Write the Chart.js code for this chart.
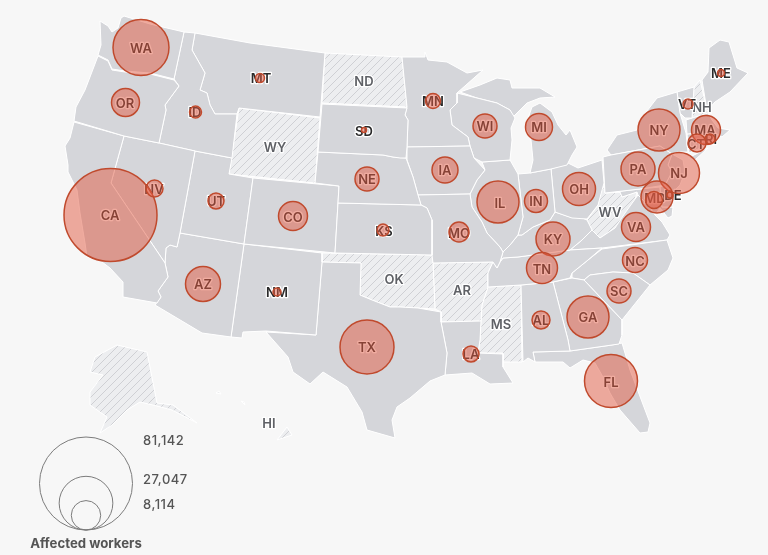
<!DOCTYPE html>
<html>
<head>
<meta charset="utf-8">
<title>Affected workers by state</title>
<script src="https://cdn.jsdelivr.net/npm/chart.js@4"></script>
<style>
  html, body { margin: 0; padding: 0; background: #f7f7f7; }
  #map { display: block; }
</style>
</head>
<body>
<canvas id="map" width="768" height="555"></canvas>
<script>
// state outlines, in map units
const shapeWA = [[100,21],[108,26],[112,32],[118,28],[121,18],[124,16],[150,24],[184,32],[174,79],[150,73],[125,71],[112,69],[108,60],[98,55],[101,45]];
const shapeOR = [[98,56],[108,61],[112,70],[125,72],[150,74],[174,80],[179,86],[165,105],[166,110],[159,143],[124,136],[74,121],[76,107],[85,90]];
const shapeCA = [[74,122],[124,136],[111,183],[165,263],[168,277],[158,291],[161,297],[157,303],[123,297],[123,282],[110,268],[102,262],[87,257],[85,243],[80,213],[77,190],[68,172],[68,165],[65,146],[70,138]];
const shapeNV = [[124,136],[159,143],[195,151],[180,233],[177,247],[170,245],[166,248],[165,263],[111,183]];
const shapeID = [[184,32],[195,33],[192,50],[205,73],[200,90],[207,93],[210,105],[215,114],[237,114],[232,158],[195,151],[159,143],[166,110],[165,105],[179,86],[174,79]];
const shapeMT = [[195,33],[250,43],[325,53],[320,117],[239,108],[237,114],[215,114],[210,105],[207,93],[200,90],[205,73],[192,50]];
const shapeWY = [[239,108],[320,118],[315,183],[229,174]];
const shapeND = [[325,53],[402,57],[407,107],[322,103]];
const shapeSD = [[322,104],[407,108],[405,115],[408,120],[407,147],[406,158],[400,158],[393,157],[383,155],[318,152]];
const shapeNE = [[318,152],[383,155],[393,157],[406,158],[413,177],[418,195],[421,205],[338,203],[339,186],[315,183]];
const shapeKS = [[338,203],[421,205],[427,208],[432,220],[432,255],[335,253]];
const shapeCO = [[253,178],[339,186],[335,253],[244,244]];
const shapeUT = [[195,151],[232,158],[229,174],[253,178],[244,244],[180,233]];
const shapeAZ = [[180,233],[244,244],[231,337],[202,333],[155,305],[161,297],[158,291],[168,277],[165,263],[166,248],[170,245],[177,247]];
const shapeNM = [[244,244],[322,253],[322,262],[316,335],[266,331],[243,332],[242,338],[231,337]];
const shapeTX = [[322,262],[361,263],[360,295],[372,300],[390,307],[400,307],[418,308],[441,312],[441,322],[447,353],[445,375],[430,381],[410,398],[397,407],[392,420],[395,438],[367,430],[362,412],[347,387],[323,372],[310,384],[293,372],[288,357],[266,332],[316,335]];
const shapeOK = [[322,253],[432,255],[433,263],[435,309],[418,308],[400,307],[390,307],[372,300],[360,295],[361,263],[322,262]];
const shapeAR = [[433,263],[493,262],[488,273],[488,287],[482,305],[481,321],[441,322],[441,312],[435,309]];
const shapeMO = [[418,195],[470,194],[472,207],[482,222],[487,233],[500,247],[503,252],[500,262],[497,268],[493,262],[433,263],[432,255],[432,220],[427,208],[421,205]];
const shapeIA = [[407,147],[470,146],[474,158],[485,170],[477,180],[470,194],[418,195],[413,177],[407,160]];
const shapeMN = [[402,57],[425,57],[425,52],[428,60],[447,62],[467,73],[483,70],[457,93],[457,103],[450,110],[452,125],[468,137],[470,146],[407,147],[408,120],[405,115],[407,107]];
const shapeWI = [[457,93],[477,98],[497,103],[510,110],[515,118],[511,128],[512,140],[510,160],[482,162],[474,158],[470,146],[468,137],[452,125],[450,110],[457,103]];
const shapeUP = [[460,92],[480,85],[497,78],[510,80],[512,88],[540,88],[555,97],[540,98],[527,103],[513,117],[510,110],[497,103],[477,98]];
const shapeMI = [[532,107],[540,103],[552,112],[558,125],[566,135],[570,130],[577,147],[572,155],[567,165],[551,169],[530,173],[533,160],[531,140],[525,127]];
const shapeIL = [[482,162],[510,160],[518,174],[523,217],[518,235],[510,245],[503,252],[500,247],[487,233],[482,222],[472,207],[470,194],[477,180],[485,170]];
const shapeIN = [[518,174],[530,173],[551,169],[555,212],[550,220],[533,227],[522,235],[518,235],[523,217]];
const shapeOH = [[551,169],[568,163],[578,168],[602,160],[604,183],[598,205],[587,219],[572,218],[555,212]];
const shapeKY = [[555,212],[570,217],[580,217],[587,220],[592,230],[582,240],[570,250],[518,257],[503,258],[500,262],[503,252],[510,245],[518,235],[522,235],[533,227],[550,220]];
const shapeTN = [[500,262],[503,258],[518,257],[570,250],[602,248],[588,260],[572,273],[570,278],[553,282],[521,285],[488,287],[488,273],[493,262],[497,268]];
const shapeMS = [[488,287],[521,285],[522,362],[503,362],[503,353],[478,353],[480,340],[481,321],[482,305]];
const shapeAL = [[521,285],[553,282],[568,340],[570,351],[533,352],[535,362],[528,358],[523,362]];
const shapeGA = [[553,282],[572,278],[584,280],[600,297],[622,320],[622,335],[619,344],[612,345],[570,351],[568,340]];
const shapeFL = [[533,352],[570,351],[612,345],[622,343],[630,370],[650,423],[648,432],[640,433],[620,410],[610,393],[603,377],[595,363],[583,360],[570,368],[563,362],[535,362]];
const shapeSC = [[584,280],[590,275],[613,272],[633,273],[650,285],[622,320],[600,297]];
const shapeNC = [[602,249],[667,240],[673,258],[668,270],[650,285],[633,273],[613,272],[590,275],[584,280],[572,278],[572,273],[588,260]];
const shapeVA = [[570,250],[582,240],[592,230],[600,238],[615,228],[625,213],[638,195],[648,205],[655,215],[662,222],[670,235],[667,240],[602,248]];
const shapeWV = [[603,183],[605,193],[620,192],[622,197],[637,192],[633,207],[615,228],[600,238],[592,230],[587,220],[598,205]];
const shapePA = [[603,157],[611,155],[660,146],[672,154],[668,165],[672,172],[665,185],[640,189],[605,193]];
const shapeNY = [[611,155],[607,150],[617,135],[637,130],[640,120],[657,98],[677,92],[680,113],[686,133],[688,152],[678,152],[672,154],[660,146]];
const shapeLI = [[688,158],[708,148],[695,160]];
const shapeNJ = [[672,154],[683,160],[685,172],[680,185],[673,192],[665,185],[672,172],[668,165]];
const shapeDE = [[665,185],[670,195],[673,207],[662,207],[660,187]];
const shapeMD = [[605,193],[640,189],[660,187],[662,207],[673,207],[672,216],[668,218],[660,208],[655,215],[648,205],[638,195],[637,192],[622,197],[620,192]];
const shapeVT = [[677,92],[694,87],[692,118],[685,118],[680,113]];
const shapeNH = [[694,87],[700,80],[707,110],[712,113],[692,118]];
const shapeME = [[702,80],[708,72],[709,48],[720,40],[729,42],[737,68],[748,73],[730,92],[715,102],[707,111]];
const shapeMA = [[686,120],[708,113],[712,120],[718,128],[730,130],[722,137],[713,132],[687,134]];
const shapeCT = [[687,134],[706,132],[707,145],[689,153]];
const shapeRI = [[706,132],[713,132],[713,142],[707,145]];
const shapeLA = [[441,322],[481,321],[480,340],[478,353],[503,354],[503,367],[513,383],[490,384],[472,373],[445,375],[447,353]];
const shapeAK = [[117,345],[147,352],[157,403],[173,405],[197,423],[172,410],[157,406],[140,402],[127,410],[112,425],[100,433],[107,417],[90,405],[90,392],[103,375],[90,372],[95,357]];
const shapeHI = [[277,440],[287,427],[292,435]];
const shapeHI2 = [[216,393],[219,391],[221,394]];
const shapeHI3 = [[241,401],[244,402],[245,405]];

const plainShapes = [shapeWA, shapeOR, shapeCA, shapeNV, shapeID, shapeMT, shapeSD, shapeNE, shapeKS, shapeCO, shapeUT, shapeAZ, shapeNM, shapeTX,
  shapeMO, shapeIA, shapeMN, shapeWI, shapeUP, shapeMI, shapeIL, shapeIN, shapeOH, shapeKY, shapeTN, shapeAL, shapeGA, shapeFL, shapeSC, shapeNC,
  shapeVA, shapePA, shapeNY, shapeLI, shapeNJ, shapeDE, shapeMD, shapeVT, shapeME, shapeMA, shapeCT, shapeRI, shapeLA];
const hatchedShapes = [shapeWY, shapeND, shapeOK, shapeAR, shapeMS, shapeWV, shapeNH, shapeAK, shapeHI, shapeHI2, shapeHI3];

// affected workers per state
const bubbleCodes = ['WA','OR','ID','CA','NV','UT','MT','SD','MN','WI','NE','IA','CO','KS','MO','IL','MI','IN','OH','KY','TN','VA','NC','SC','GA','FL','AL','LA','TX','AZ','NM','NY','PA','NJ','MD','DC','DE','MA','CT','RI','VT','ME'];
const bubbleX = [141,125.5,195.5,110.5,154.5,216,260,364,433,485,367,445,293,383,459,498,539,536,579,553,542,636,635,619,588,611,541,471,367,203,277,659,638,679,657,654,670,706,697,710,688,721];
const bubbleY = [47.5,102.5,112,215,188.5,201,78,130,101,126,179,170,216,230,232,202,127,201,189,239,268,227,260,291,317,381,320,354,347,284,292,130,169,173,197,200,195,130,143,139,104,73];
const workers = [29420,7355,1350,81142,2710,2400,760,235,2110,5400,5400,6340,7890,1350,3750,16550,6840,4960,10220,10850,9020,7890,5860,5400,16550,26350,3040,2400,27360,11490,600,16550,10850,15770,9610,2710,340,7890,3040,940,940,460];

// state labels
const labelCodes = ['WA','OR','ID','CA','NV','UT','MT','SD','MN','WI','NE','IA','CO','KS','MO','IL','MI','IN','OH','KY','TN','VA','NC','SC','GA','FL','AL','LA','TX','AZ','NM','NY','PA','NJ','MD','DE','MA','CT','RI','VT','ME'];
const labelX = [141,125,195,110,154,216,261,364,433,485,367,445,293,384,459,500,539,536,579,553,542,636,635,619,588,611,541,471,367,203,277,659,638,679,655,673,705,696,711,687,721];
const labelY = [49,104,113,216,190,202,79,132,102,127,180,171,218,232,234,204,128,202,190,240,270,228,262,292,318,383,321,355,348,285,293,131,170,174,199,196,131,145,140,105,74];
const quietCodes = ['ND','WY','OK','AR','MS','WV','NH','HI'];
const quietX = [364,275,394,462,501,610,702,269];
const quietY = [82,148,280,291,325,213,108,424];

// size legend
const legendValues = [81142,27047,8114];
const legendTexts = ['81,142','27,047','8,114'];
const legendTextY = [441,480,505];

const maxWorkers = 81142;
const maxRadius = 46.5;
const radiusFor = v => maxRadius * Math.sqrt(v / maxWorkers);

function hatchPattern() {
  const tile = document.createElement('canvas');
  tile.width = 8; tile.height = 8;
  const c = tile.getContext('2d');
  c.fillStyle = '#edeef0';
  c.fillRect(0, 0, 8, 8);
  c.strokeStyle = '#cfd0d4';
  c.lineWidth = 1;
  c.beginPath();
  c.moveTo(-2, 10); c.lineTo(10, -2);
  c.moveTo(-6, 6); c.lineTo(6, -6);
  c.moveTo(2, 14); c.lineTo(14, 2);
  c.stroke();
  return document.getElementById('map').getContext('2d').createPattern(tile, 'repeat');
}

const toPoints = shape => shape.concat([shape[0]]).map(p => ({ x: p[0], y: p[1] }));
const shapeDataset = (shape, fill) => ({
  type: 'line',
  data: toPoints(shape),
  backgroundColor: fill,
  borderColor: '#ffffff',
  borderWidth: 1,
  pointRadius: 0,
  tension: 0,
  fill: 'shape',
  order: 3
});

const hatch = hatchPattern();
const bubbleDataset = {
  type: 'bubble',
  data: bubbleCodes.map((code, i) => ({ x: bubbleX[i], y: bubbleY[i], r: radiusFor(workers[i]) })),
  backgroundColor: 'rgba(225,90,65,0.5)',
  borderColor: '#c04a2d',
  borderWidth: 1.5,
  order: 2
};
const legendBottom = 530;
const legendDataset = {
  type: 'bubble',
  data: legendValues.map(v => ({ x: 86, y: legendBottom - radiusFor(v), r: radiusFor(v) })),
  backgroundColor: 'rgba(0,0,0,0)',
  borderColor: '#7b7b7b',
  borderWidth: 1,
  order: 1
};
const datasets = plainShapes.map(s => shapeDataset(s, '#d5d6da'))
  .concat(hatchedShapes.map(s => shapeDataset(s, hatch)))
  .concat([bubbleDataset, legendDataset]);

function stateText(ctx, text, x, y, color) {
  ctx.font = '600 13px Inter, sans-serif';
  ctx.textAlign = 'center';
  ctx.textBaseline = 'middle';
  ctx.lineJoin = 'round';
  ctx.lineWidth = 2.5;
  ctx.strokeStyle = '#ffffff';
  ctx.strokeText(text, x, y);
  ctx.fillStyle = color;
  ctx.fillText(text, x, y);
}

// labels sit under the translucent bubbles
const labelPlugin = {
  id: 'stateLabels',
  beforeDatasetDraw(chart, args) {
    if (chart.data.datasets[args.index] !== bubbleDataset) return;
    const { ctx, scales } = chart;
    ctx.save();
    quietCodes.forEach((t, i) => stateText(ctx, t, scales.x.getPixelForValue(quietX[i]), scales.y.getPixelForValue(quietY[i]), '#5f6166'));
    labelCodes.forEach((t, i) => stateText(ctx, t, scales.x.getPixelForValue(labelX[i]), scales.y.getPixelForValue(labelY[i]), '#2b2b2b'));
    ctx.restore();
  },
  afterDatasetsDraw(chart) {
    const { ctx, scales } = chart;
    ctx.save();
    ctx.fillStyle = '#555555';
    ctx.font = '500 13px Inter, sans-serif';
    ctx.letterSpacing = '0.5px';
    ctx.textAlign = 'left';
    ctx.textBaseline = 'middle';
    legendTexts.forEach((t, i) => ctx.fillText(t, scales.x.getPixelForValue(143), scales.y.getPixelForValue(legendTextY[i])));
    ctx.letterSpacing = '0px';
    ctx.font = '700 13.2px Inter, sans-serif';
    ctx.textAlign = 'center';
    ctx.fillText('Affected workers', scales.x.getPixelForValue(86), scales.y.getPixelForValue(544));
    ctx.restore();
  }
};

new Chart(document.getElementById('map'), {
  type: 'bubble',
  data: { datasets },
  plugins: [labelPlugin],
  options: {
    responsive: false,
    animation: false,
    layout: { padding: 0, autoPadding: false },
    plugins: { legend: { display: false }, tooltip: { enabled: false } },
    scales: {
      x: { type: 'linear', display: false, min: 0, max: 768 },
      y: { type: 'linear', display: false, min: 0, max: 555, reverse: true }
    }
  }
});
</script>
</body>
</html>
